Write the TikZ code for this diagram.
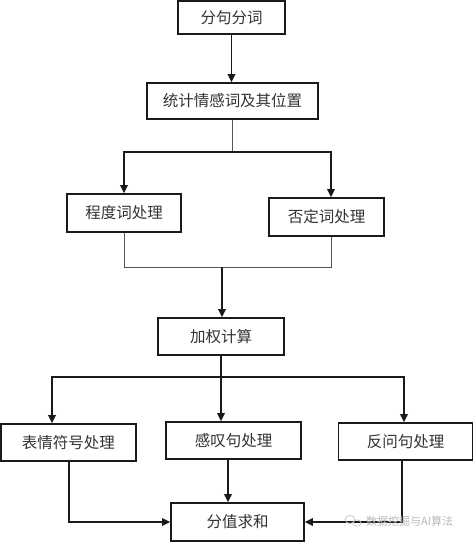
\documentclass[tikz,border=0pt]{standalone}
\usepackage{fontspec}
\newfontfamily\cjk{Noto Sans CJK SC}
\usetikzlibrary{arrows.meta}
\definecolor{txt}{HTML}{333333}
\definecolor{ln}{HTML}{1A1A1A}
\definecolor{thinc}{HTML}{555555}
\tikzset{
  box/.style={draw=ln, line width=1.7pt, inner sep=0pt, fill=white,
    font=\cjk\fontsize{15.5}{18}\selectfont, text=txt},
  arr/.style={draw=ln, line width=1.7pt, -{Triangle[length=8pt,width=7.5pt]}},
  thinl/.style={draw=thinc, line width=0.9pt},
}
\begin{document}
\begin{tikzpicture}[x=1pt,y=-1pt]
\useasboundingbox (0,0) rectangle (474,542);
\fill[white] (0,0) rectangle (474,542);
% boxes
\node[box, minimum width=107pt, minimum height=33pt] (b1) at (231.5,17.5) {分句分词};
\node[box, minimum width=171pt, minimum height=36pt] (b2) at (232.5,101) {统计情感词及其位置};
\node[box, minimum width=114pt, minimum height=38pt] (b3) at (124,213) {程度词处理};
\node[box, minimum width=115pt, minimum height=38pt] (b4) at (326.5,217) {否定词处理};
\node[box, minimum width=126pt, minimum height=37pt] (b5) at (221,336.5) {加权计算};
\node[box, minimum width=135pt, minimum height=37pt] (b6) at (68.5,442.5) {表情符号处理};
\node[box, minimum width=135pt, minimum height=37pt] (b7) at (233.5,440.5) {感叹句处理};
\node[box, minimum width=134pt, minimum height=37pt] (b8) at (405.5,441.5) {反问句处理};
\node[box, minimum width=133pt, minimum height=38pt] (b9) at (237.5,522) {分值求和};
% junctions
\coordinate (j1) at (232,152);
\coordinate (j2) at (222,267);
\coordinate (j3) at (221,377);
% connectors
\draw[arr] (b1.south) -- (b1.south |- b2.north);
\draw[thinl] (b2.south) -- (b2.south |- j1);
\draw[arr] (j1) -| (b3.north);
\draw[arr] (j1) -| ([xshift=4.5pt]b4.north);
\draw[thinl] (b3.south) |- (j2);
\draw[thinl] ([xshift=4.5pt]b4.south) |- (j2);
\draw[arr] (j2) -- (j2 |- b5.north);
\draw[arr] (b5.south) -- (b5.south |- b7.north);
\draw[arr] (j3) -| ([xshift=-16.5pt]b6.north);
\draw[arr] (j3) -| ([xshift=-1.5pt]b8.north);
\draw[arr] ([xshift=0.5pt]b6.south) |- (b9.west);
\draw[arr] ([xshift=-5.5pt]b7.south) -- ([xshift=-5.5pt]b7.south |- b9.north);
\draw[arr] ([xshift=-3.5pt]b8.south) |- (b9.east);
% watermark
\node[font=\cjk\fontsize{11}{13}\selectfont, text=gray!55, inner sep=0pt, anchor=west] (wm) at (366,521) {数据挖掘与AI算法};
\draw[gray!45, line width=0.7pt] (350,519.5) ellipse (5pt and 4pt);
\draw[gray!45, line width=0.7pt] (357,523) ellipse (4pt and 3.2pt);
\end{tikzpicture}
\end{document}
